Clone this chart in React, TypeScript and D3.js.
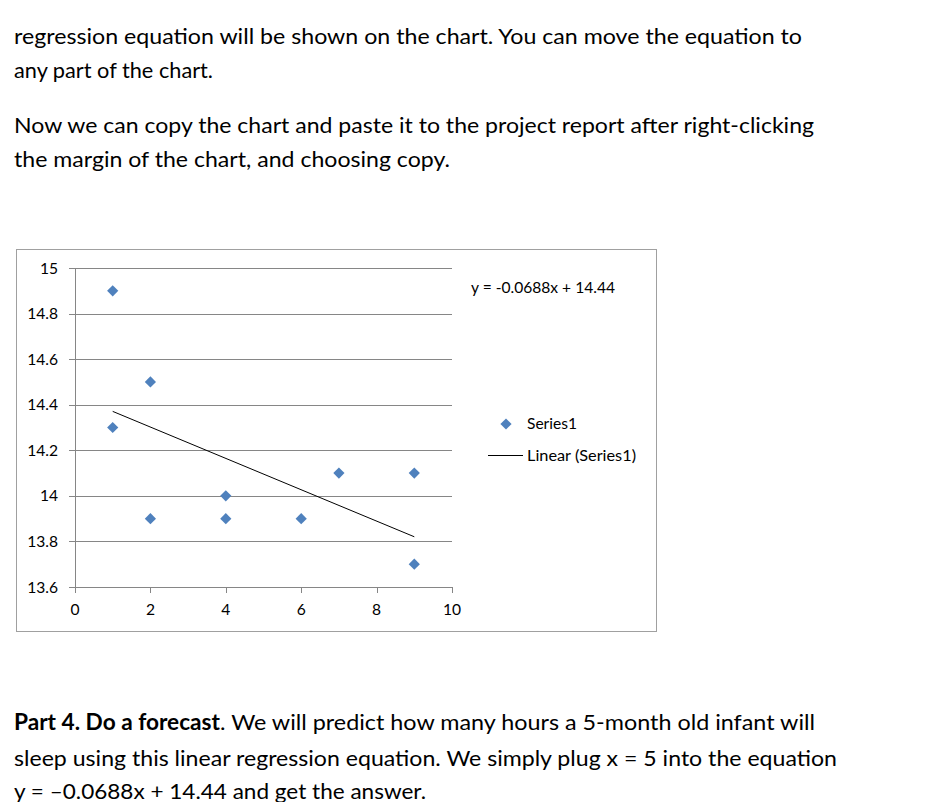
import React from "react";
import * as d3 from "d3";

const xValues = [1, 1, 2, 2, 4, 4, 6, 7, 9, 9];
const yValues = [14.9, 14.3, 14.5, 13.9, 14.0, 13.9, 13.9, 14.1, 14.1, 13.7];
const xTicks = [0, 2, 4, 6, 8, 10];
const yTicks = [13.6, 13.8, 14, 14.2, 14.4, 14.6, 14.8, 15];
const seriesName = "Series1";
const trendName = "Linear (Series1)";
const equationLabel = "y = -0.0688x + 14.44";

const W = 930;
const H = 802;
const FONT = "Lato, 'Open Sans', sans-serif";
const CF = 15.6;

const bodyLines = [
  { text: "regression equation will be shown on the chart. You can move the equation to", x: 14, y: 44, end: 802 },
  { text: "any part of the chart.", x: 14, y: 78, end: 213 },
  { text: "Now we can copy the chart and paste it to the project report after right-clicking", x: 14, y: 133, end: 814 },
  { text: "the margin of the chart, and choosing copy.", x: 14, y: 167, end: 450 },
  { text: "sleep using this linear regression equation. We simply plug x = 5 into the equation", x: 14, y: 766, end: 837 },
  { text: "y = \u20130.0688x + 14.44 and get the answer.", x: 14, y: 799, end: 426 },
];

export default function App() {
  const x = d3.scaleLinear().domain([0, 10]).range([75, 452]);
  const y = d3.scaleLinear().domain([13.6, 15]).range([587, 268]);
  const xm = d3.mean(xValues)!;
  const ym = d3.mean(yValues)!;
  const sxy = d3.sum(xValues.map((v, i) => (v - xm) * (yValues[i] - ym)));
  const sxx = d3.sum(xValues.map((v) => (v - xm) ** 2));
  const slope = sxy / sxx;
  const intercept = ym - slope * xm;
  const [x0, x1] = d3.extent(xValues) as [number, number];
  const diamond = d3.symbol().type(d3.symbolDiamond2).size(80)();
  const grid = "#868686";

  return (
    <svg width={W} height={H} style={{ position: "absolute", left: 0, top: 0, background: "#fff" }} fontFamily={FONT}>
      <rect x={0} y={0} width={W} height={H} fill="#fff" />
      {bodyLines.map((l, i) => (
        <text key={i} x={l.x} y={l.y} fontSize={22} fill="#000" textLength={l.end - l.x} lengthAdjust="spacingAndGlyphs">
          {l.text}
        </text>
      ))}
      <text x={14} y={730} fontSize={22} fontWeight="bold" fill="#000" textLength={220 - 14} lengthAdjust="spacingAndGlyphs">
        Part 4. Do a forecast
      </text>
      <text x={220} y={730} fontSize={22} fill="#000" textLength={815 - 220} lengthAdjust="spacingAndGlyphs">
        . We will predict how many hours a 5-month old infant will
      </text>

      {/* chart frame */}
      <rect x={16.5} y={249.5} width={640} height={382} fill="#fff" stroke="#a0a0a0" strokeWidth={1} />

      {/* gridlines + y ticks */}
      {yTicks.map((t) => (
        <g key={t}>
          <line x1={69} x2={452} y1={Math.round(y(t)) + 0.5} y2={Math.round(y(t)) + 0.5} stroke={grid} strokeWidth={1} />
          <text x={58} y={y(t)} dy="0.36em" textAnchor="end" fontSize={CF} fill="#000">
            {String(t)}
          </text>
        </g>
      ))}
      {/* y axis */}
      <line x1={75.5} x2={75.5} y1={268} y2={587} stroke={grid} strokeWidth={1} />
      {/* x ticks */}
      {xTicks.map((t) => (
        <g key={t}>
          <line x1={Math.round(x(t)) + 0.5} x2={Math.round(x(t)) + 0.5} y1={587} y2={593} stroke={grid} strokeWidth={1} />
          <text x={x(t)} y={615} textAnchor="middle" fontSize={CF} fill="#000">
            {t}
          </text>
        </g>
      ))}

      {/* points */}
      {xValues.map((v, i) => (
        <path key={i} d={diamond!} transform={`translate(${x(v)},${y(yValues[i])})`} fill="#4F81BD" />
      ))}

      {/* trendline */}
      <line
        x1={x(x0)}
        y1={y(intercept + slope * x0)}
        x2={x(x1)}
        y2={y(intercept + slope * x1)}
        stroke="#000"
        strokeWidth={1}
      />

      {/* equation */}
      <text x={471} y={293} fontSize={CF} fill="#000" textLength={144} lengthAdjust="spacingAndGlyphs">
        {equationLabel}
      </text>

      {/* legend */}
      <path d={diamond!} transform="translate(506,424)" fill="#4F81BD" />
      <text x={527} y={429} fontSize={CF} fill="#000" textLength={50} lengthAdjust="spacingAndGlyphs">
        {seriesName}
      </text>
      <line x1={488} x2={523} y1={455.5} y2={455.5} stroke="#000" strokeWidth={1} />
      <text x={527} y={461} fontSize={CF} fill="#000" textLength={109} lengthAdjust="spacingAndGlyphs">
        {trendName}
      </text>
    </svg>
  );
}
